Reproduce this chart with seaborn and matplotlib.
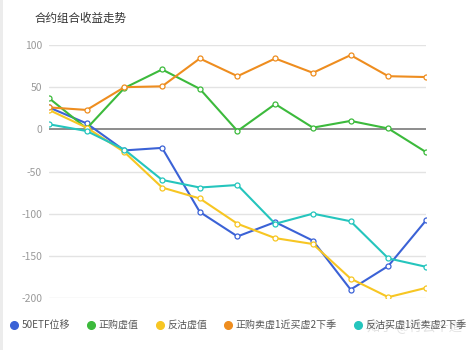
import matplotlib
matplotlib.use("Agg")
import matplotlib.pyplot as plt
from matplotlib.lines import Line2D
import seaborn as sns
import pandas as pd

# Portfolio return series, one value per observation date
steps = list(range(11))
etf_shift = [26, 7, -25, -22, -98, -127, -110, -132, -190, -162, -108]
bull_otm = [37, 1, 49, 71, 48, -2, 30, 2, 10, 1, -27]
bear_put_otm = [23, 2, -27, -69, -82, -112, -129, -136, -177, -199, -188]
calendar_call = [26, 23, 50, 51, 84, 63, 84, 67, 88, 63, 62]
calendar_put = [6, -2, -24, -60, -69, -66, -112, -100, -109, -153, -163]

series_names = ["50ETF位移", "正购虚值", "反沽虚值", "正购卖虚1近买虚2下季", "反沽买虚1近卖虚2下季"]
series_values = [etf_shift, bull_otm, bear_put_otm, calendar_call, calendar_put]
colors = ["#3b62d6", "#3cba3c", "#f7c623", "#ee8d1f", "#25c5bd"]

y_ticks = [100, 50, 0, -50, -100, -150, -200]

df = pd.concat(
    [pd.DataFrame({"step": steps, "value": v, "series": n}) for n, v in zip(series_names, series_values)],
    ignore_index=True,
)

sns.set_theme(style="white")
plt.rcParams["font.family"] = ["Noto Sans CJK SC", "DejaVu Sans"]

fig = plt.figure(figsize=(4.74, 3.5), dpi=100)
ax = fig.add_axes([49 / 474, 1 - 298 / 350, (426 - 49) / 474, (298 - 45) / 350])

for yv in y_ticks:
    if yv == 0:
        ax.axhline(yv, color="#6e6e6e", lw=1.1, zorder=1)
    else:
        ax.axhline(yv, color="#e3e3e3", lw=1.0, zorder=0)

for name, col in zip(series_names, colors):
    sns.lineplot(
        data=df[df["series"] == name], x="step", y="value", ax=ax,
        color=col, lw=1.5, marker="o", markersize=3.6,
        markerfacecolor="white", markeredgecolor=col, markeredgewidth=0.9,
        zorder=3, legend=False,
    )

ax.set_xlim(0, 10)
ax.set_ylim(-200, 100)
ax.set_yticks(y_ticks)
ax.set_yticklabels([str(t) for t in y_ticks])
ax.set_xticks([])
ax.set_xlabel("")
ax.set_ylabel("")
ax.tick_params(axis="y", length=0, pad=5, labelsize=7.5, labelcolor="#9a9a9a")
for s in ax.spines.values():
    s.set_visible(False)
ax.patch.set_alpha(0)

fig.text(35 / 474, 1 - 18 / 350, "合约组合收益走势", fontsize=8.3, color="#333333", va="center", ha="left")

# light frame strip along the left edge
fig.add_artist(plt.Rectangle((0, 0), 3 / 474, 1, transform=fig.transFigure, color="#ececec", lw=0))

handles = [Line2D([], [], marker="o", ls="", color=c, markersize=5.5) for c in colors]
fig.legend(
    handles, series_names, loc="center left", bbox_to_anchor=(9 / 474, 1 - 325 / 350),
    ncol=5, frameon=False, fontsize=7.2, handletextpad=0.25, columnspacing=1.6,
    handlelength=1.0, labelcolor="#555555", borderaxespad=0, borderpad=0,
)

fig.text(462 / 474, 1 - 327 / 350, "知乎 @行云千道", fontsize=9.5, color="#cfcfcf", alpha=0.6,
         ha="right", va="center")

fig.savefig("out.png", dpi=100)
